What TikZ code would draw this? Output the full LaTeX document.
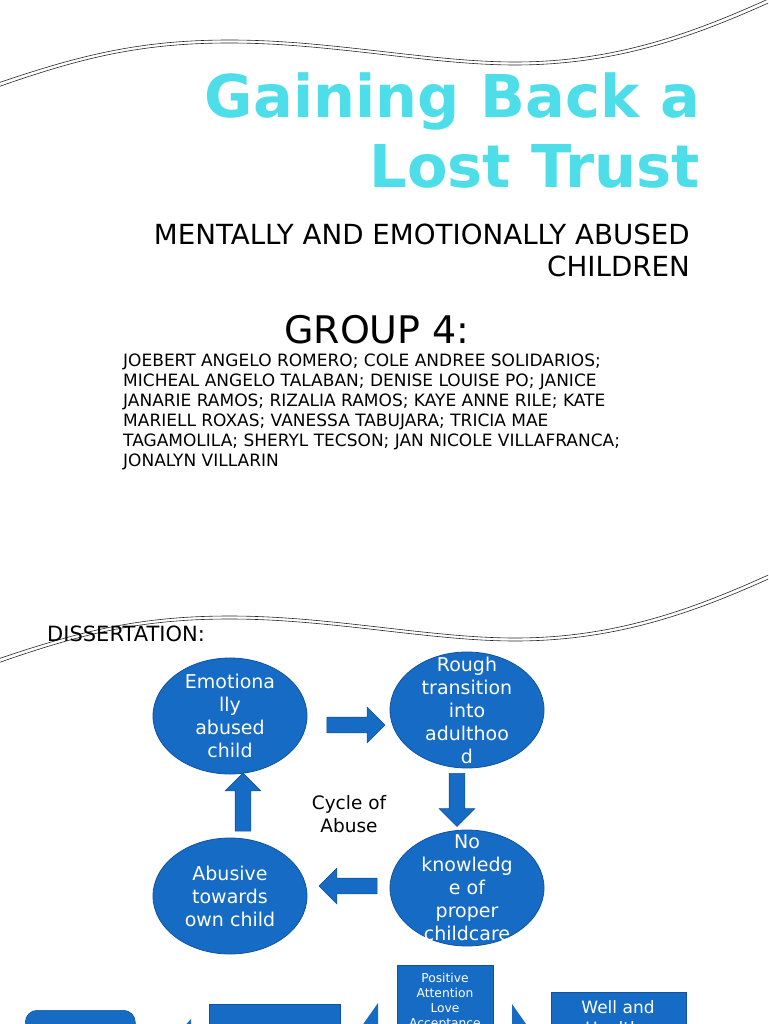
\documentclass[tikz,border=0pt]{standalone}
\usepackage{fontspec}
\setmainfont{DejaVu Sans}
\usetikzlibrary{shapes.geometric,shapes.arrows,positioning}
\definecolor{titlecyan}{RGB}{78,222,234}
\definecolor{cycleblue}{RGB}{22,107,196}
\definecolor{cycleedge}{RGB}{16,82,160}
\newcommand{\fsz}[2]{\fontsize{#1}{#2}\selectfont}
\newcommand{\wavepath}[1]{%
  \draw[wave,yshift=#1] (-5,84) .. controls (80,55) and (140,40) .. (230,40)
    .. controls (330,40) and (430,62) .. (515,62)
    .. controls (620,62) and (700,30) .. (775,-4);
  \draw[wave,yshift=#1] (-5,88) .. controls (80,58) and (140,43) .. (230,43)
    .. controls (330,43) and (430,65) .. (515,65)
    .. controls (620,65) and (700,34) .. (775,0);
}

\begin{document}
\begin{tikzpicture}[x=1pt,y=-1pt,
    every node/.style={inner sep=0pt},
    wave/.style={line width=0.6pt,black!85},
    bubble/.style={ellipse,fill=cycleblue,draw=cycleedge,line width=0.8pt,
      minimum width=154pt,minimum height=116pt},
    bubbletext/.style={align=center,text=white,font=\fsz{19}{23}},
    blockarrow/.style={single arrow,fill=cycleblue,draw=cycleedge,line width=0.6pt,
      minimum height=58pt,inner xsep=0pt,inner ysep=7.5pt,
      single arrow head extend=10pt,single arrow tip angle=90},
    flowbox/.style={rectangle,fill=cycleblue,draw=cycleedge,line width=0.6pt,anchor=north west},
    boxtext/.style={text=white,anchor=base}]
		\useasboundingbox (0,0) rectangle (768,1024);
		\clip (0,0) rectangle (768,1024);
		%
		% wavy lines
		\wavepath{0pt}
		\wavepath{-576pt}
		%
		% title block
		\node[anchor=base east,text=titlecyan,font=\fsz{59}{70}\bfseries] (title1) at (700,118) {Gaining Back a};
		\node[anchor=base east,text=titlecyan,font=\fsz{59}{70}\bfseries] (title2) at (700,188) {Lost Trust};
		\node[anchor=base east,font=\fsz{27.7}{32}] (sub1) at (690,244) {MENTALLY AND EMOTIONALLY ABUSED};
		\node[anchor=base east,font=\fsz{27.7}{32}] (sub2) at (690,276) {CHILDREN};
		\node[anchor=base,font=\fsz{38}{44}] (group) at (377,343) {GROUP 4:};
		\node[anchor=base west,font=\fsz{17}{20}] (names1) at (123,366) {JOEBERT ANGELO ROMERO; COLE ANDREE SOLIDARIOS;};
		\node[anchor=base west,font=\fsz{17}{20}] (names2) at (123,386) {MICHEAL ANGELO TALABAN; DENISE LOUISE PO; JANICE};
		\node[anchor=base west,font=\fsz{17}{20}] (names3) at (123,406) {JANARIE RAMOS; RIZALIA RAMOS; KAYE ANNE RILE; KATE};
		\node[anchor=base west,font=\fsz{17}{20}] (names4) at (123,426) {MARIELL ROXAS; VANESSA TABUJARA; TRICIA MAE};
		\node[anchor=base west,font=\fsz{17}{20}] (names5) at (123,446) {TAGAMOLILA; SHERYL TECSON; JAN NICOLE VILLAFRANCA;};
		\node[anchor=base west,font=\fsz{17}{20}] (names6) at (123,466) {JONALYN VILLARIN};
		\node[anchor=base west,font=\fsz{21}{24}] (diss) at (47,641) {DISSERTATION:};
		%
		% cycle of abuse
		\node[bubble] (emo) at (230,716) {};
		\node[bubble] (rough) at (467,710) {};
		\node[bubble] (noknow) at (467,888) {};
		\node[bubble] (abusive) at (230,896) {};
		\node[bubbletext] (emotext) at (emo.center) {Emotiona\\lly\\abused\\child};
		\node[bubbletext] (roughtext) at (rough.center) {Rough\\transition\\into\\adulthoo\\d};
		\node[bubbletext] (noknowtext) at (noknow.center) {No\\knowledg\\e of\\proper\\childcare};
		\node[bubbletext] (abusivetext) at (abusive.center) {Abusive\\towards\\own child};
		\node[align=center,font=\fsz{18.5}{23}] (cycle) at (349,814) {Cycle of\\Abuse};
		%
		\node[blockarrow] (emo2rough) at (352,725) {};
		\node[blockarrow,minimum height=53pt,rotate=-90] (rough2no) at (457,796) {};
		\node[blockarrow,rotate=180] (no2abusive) at (352,886) {};
		\node[blockarrow,rotate=90] (abusive2emo) at (243,806) {};
		%
		% lower flow
		\node[flowbox,rounded corners=12pt,minimum width=110pt,minimum height=70pt] (start) at (25,1010) {};
		\node[flowbox,minimum width=131pt,minimum height=70pt] (middle) at (209,1004) {};
		\node[flowbox,minimum width=96pt,minimum height=100pt] (positive) at (397,965) {};
		\node[flowbox,minimum width=135pt,minimum height=70pt] (well) at (551,992) {};
		\node[boxtext,font=\fsz{12.3}{15}] (pos1) at (445,982) {Positive};
		\node[boxtext,font=\fsz{12.3}{15}] (pos2) at (445,997) {Attention};
		\node[boxtext,font=\fsz{12.3}{15}] (pos3) at (445,1012) {Love};
		\node[boxtext,font=\fsz{12.3}{15}] (pos4) at (445,1027) {Acceptance};
		\node[boxtext,font=\fsz{17}{21}] (well1) at (618,1013) {Well and};
		\node[boxtext,font=\fsz{17}{21}] (well2) at (618,1034) {Healthy};
		%
		\fill[cycleblue] (191,1019) -- (172,1040) -- (191,1061) -- cycle;
		\fill[cycleblue] (378,1003) -- (352,1040) -- (378,1077) -- cycle;
		\fill[cycleblue] (512,1004) -- (538,1041) -- (512,1078) -- cycle;
\end{tikzpicture}
\end{document}
